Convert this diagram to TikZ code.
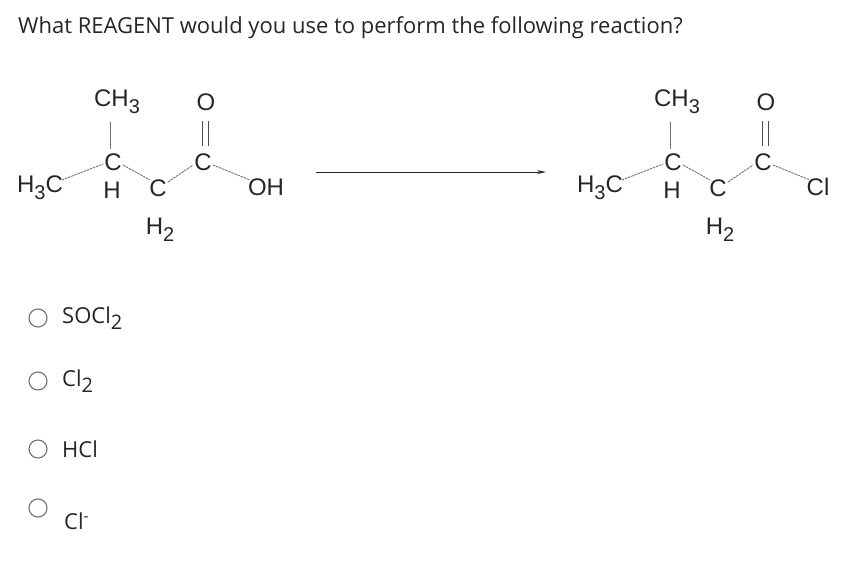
\documentclass[tikz,border=0pt]{standalone}
\usepackage{fontspec}
\usetikzlibrary{arrows.meta}
\setmainfont{Open Sans}
\newfontfamily\chem{Liberation Sans}
\newcommand{\sbs}[1]{\raisebox{-0.3em}{\fontsize{20}{20}\selectfont #1}}
\begin{document}
\begin{tikzpicture}[x=1pt,y=-1pt,
  lab/.style={font=\chem\fontsize{24}{24}\selectfont,inner sep=0pt,text=black!85},
  bond/.style={draw=black!55,line width=0.9pt,dash pattern=on 2.5pt off 0.8pt},
  opt/.style={font=\fontsize{22}{22}\selectfont,anchor=west,inner sep=0pt,text=black!85},
  radio/.style={draw=black!55,line width=1.1pt,circle,minimum size=18pt,inner sep=0pt}]
\useasboundingbox (0,0) rectangle (852,576);
\node[anchor=west,inner sep=0pt,font=\fontsize{22}{22}\selectfont,text=black!85] (q) at (18,28) {What REAGENT would you use to perform the following reaction?};
\foreach \s/\n in {0/a,560/b}{
  \begin{scope}[xshift=\s]
  \node[lab] (\n me) at (117,102) {CH\sbs{3}};
  \node[lab] (\n c1) at (113,162) {C};
  \node[lab] (\n h) at (112,190) {H};
  \node[lab] (\n l) at (40,188) {H\sbs{3}C};
  \node[lab] (\n c2) at (158,188) {C};
  \node[lab] (\n h2) at (160,230) {H\sbs{2}};
  \node[lab] (\n c3) at (203,162) {C};
  \node[lab] (\n o) at (206,102) {O};
  \draw[bond,dash pattern=] (110,122) -- (110,149);
  \draw[bond] (62,180) -- (103,164);
  \draw[bond] (123,165) -- (150,180);
  \draw[bond] (168,182) -- (193,165);
  \draw[bond] (213,165) -- (250,180);
  \draw[black!70,line width=0.9pt] (202,121) -- (202,146) (208,121) -- (208,146);
  \end{scope}}
\node[lab] (oh) at (266,187) {OH};
\node[lab] (cl) at (818,187) {Cl};
\coordinate (as) at (316,172); \coordinate (ae) at (546,172);
\draw[line width=1pt,black!85,-{Stealth[length=9pt,width=4pt]}] (as) -- (ae);
\foreach \y/\t/\n in {318/SOCl\sbs{2}/o1,381/Cl\sbs{2}/o2,449/HCl/o3}{
  \node[radio] (r\n) at (38,\y) {};
  \node[opt] (t\n) at (62,\y) {\t};}
\node[radio] (ro4) at (38,508) {};
\node[opt] (to4) at (64,521) {Cl\textsuperscript{-}};
\end{tikzpicture}
\end{document}
